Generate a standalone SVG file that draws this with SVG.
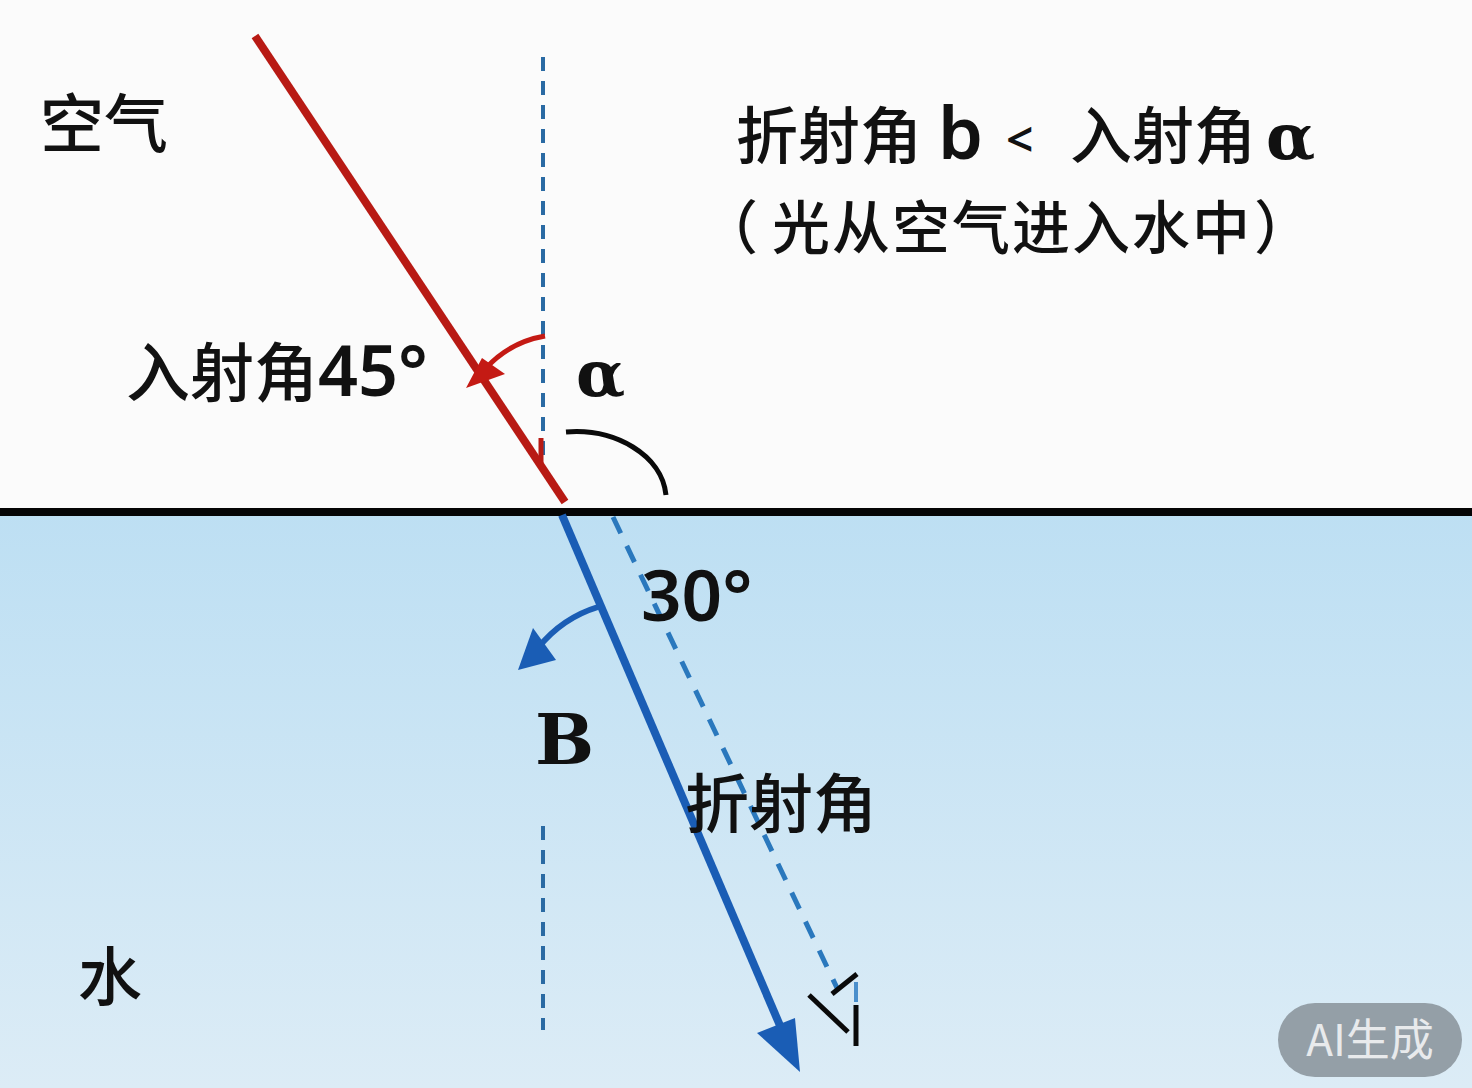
<svg xmlns="http://www.w3.org/2000/svg" width="1472" height="1088" viewBox="0 0 1472 1088">
<defs>
<linearGradient id="water" x1="0" y1="0" x2="0" y2="1">
<stop offset="0" stop-color="#bddff3"/>
<stop offset="1" stop-color="#dcecf6"/>
</linearGradient>
<style>
.cjk{font-family:"Noto Sans CJK SC","Noto Sans",sans-serif;fill:#111;font-weight:500}
.num{font-family:"Noto Sans","Liberation Sans",sans-serif;fill:#111;font-weight:600}
.serif{font-family:"DejaVu Serif","Liberation Serif",serif;fill:#111;font-weight:bold}
.normal{stroke:#2a6aa3;stroke-width:4;stroke-dasharray:14 10;fill:none}
</style>
</defs>
<g id="background">
<rect x="0" y="0" width="1472" height="512" fill="#fbfbfb"/>
<rect x="0" y="512" width="1472" height="576" fill="url(#water)"/>
</g>
<g id="interface"><line x1="0" y1="512" x2="1472" y2="512" stroke="#050505" stroke-width="8"/></g>
<g id="connectors">
<line class="normal" x1="543" y1="57" x2="543" y2="470"/>
<line class="normal" x1="543" y1="826" x2="543" y2="1030"/>
<line x1="541" y1="438" x2="541" y2="466" stroke="#b81a14" stroke-width="5"/>
<line x1="255" y1="36" x2="565" y2="502" stroke="#b81a14" stroke-width="8"/>
<path d="M545,336 Q510,342 486,368" fill="none" stroke="#c41a14" stroke-width="5"/>
<polygon points="466,388 482,358 505,374" fill="#c41a14"/>
<path d="M566,432 C615,428 662,455 666,495" fill="none" stroke="#0a0a0a" stroke-width="5"/>
<line x1="613" y1="517" x2="838" y2="990" stroke="#2a78bd" stroke-width="5" stroke-dasharray="18 14"/>
<line x1="562" y1="515" x2="787" y2="1042" stroke="#1a5db5" stroke-width="8"/>
<polygon points="800,1072 757,1033 795,1018" fill="#1a5db5"/>
<path d="M598,607 Q562,618 538,648" fill="none" stroke="#1a5db5" stroke-width="6"/>
<polygon points="518,670 533,628 556,660" fill="#1a5db5"/>
<g stroke="#0a0a0a" stroke-width="5" fill="none">
<line x1="809" y1="995" x2="848" y2="1032"/>
<line x1="832" y1="994" x2="857" y2="974"/>
<line x1="856" y1="1005" x2="856" y2="1046"/>
</g>
<line x1="856" y1="982" x2="856" y2="1002" stroke="#4a8fcc" stroke-width="4"/>
</g>
<g id="label-air"><text class="cjk" x="40" y="147" font-size="64">空气</text></g>
<g id="label-water"><text class="cjk" x="78" y="1000" font-size="64">水</text></g>
<g id="label-incident"><text class="cjk" x="126" y="396" font-size="64">入射角<tspan class="num" font-size="70">45°</tspan></text></g>
<g id="label-alpha"><text class="serif" x="576" y="396" font-size="64">α</text></g>
<g id="label-30"><text class="num" x="641" y="621" font-size="71">30°</text></g>
<g id="label-B"><text class="serif" x="535" y="764" font-size="70">B</text></g>
<g id="label-refraction"><text class="cjk" x="685" y="827" font-size="64">折射角</text></g>
<g id="title">
<text class="cjk" x="736" y="159" font-size="62">折射角</text>
<text class="num" x="938" y="159" font-size="72" font-weight="700">b</text>
<text class="num" x="1006" y="157" font-size="48">&lt;</text>
<text class="cjk" x="1070" y="159" font-size="62">入射角</text>
<text class="serif" x="1266" y="159" font-size="64">α</text>
<text class="cjk" x="700" y="249" font-size="58">（</text>
<text class="cjk" x="772" y="249" font-size="58" textLength="478">光从空气进入水中</text>
<text class="cjk" x="1254" y="249" font-size="58">）</text>
</g>
<g id="badge">
<rect x="1278" y="1003" width="184" height="74" rx="37" fill="#949fa7"/>
<text x="1370" y="1056" font-size="44" text-anchor="middle" font-family="Noto Sans CJK SC,sans-serif" fill="#e8eaec">AI生成</text>
</g>
</svg>
